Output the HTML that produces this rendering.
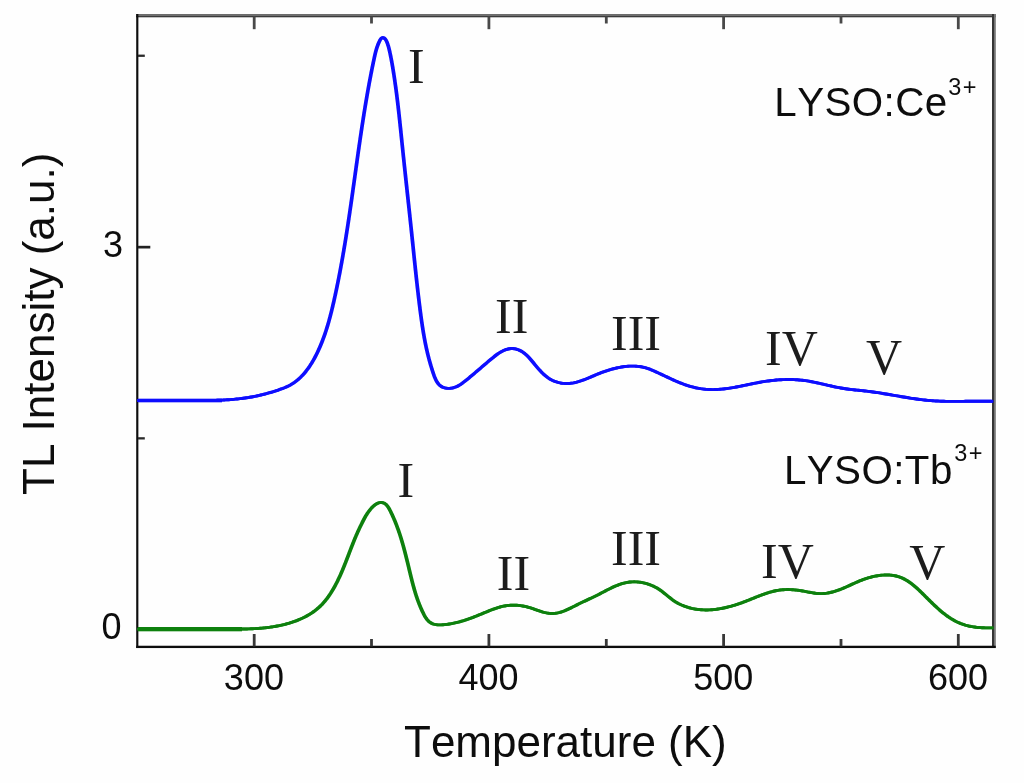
<!DOCTYPE html>
<html><head><meta charset="utf-8"><title>TL Intensity</title>
<style>
html,body{margin:0;padding:0;background:#fff;}
svg{display:block;}
.s{font-family:"Liberation Sans",sans-serif;fill:#111;font-kerning:none;}
.r{font-family:"Liberation Serif",serif;fill:#1c1c1c;font-size:50px;}
</style></head><body>
<svg width="1024" height="783" viewBox="0 0 1024 783">
<rect width="1024" height="783" fill="#fefefe"/>
<defs><filter id="soft" x="-2%" y="-2%" width="104%" height="104%"><feGaussianBlur stdDeviation="0.45"/></filter></defs>
<g filter="url(#soft)">
<!-- frame -->
<rect x="136.2" y="14" width="859.5" height="1.6" fill="#6c6c6c"/>
<rect x="136.2" y="15.5" width="859.5" height="1.8" fill="#3a3a3a"/>
<rect x="992" y="14" width="2" height="634" fill="#353535"/>
<rect x="994" y="14" width="1.8" height="634" fill="#767676"/>
<rect x="136.2" y="14" width="2.15" height="634" fill="#0a0a0a"/>
<rect x="136.2" y="645.75" width="859.5" height="2.3" fill="#0a0a0a"/>
<rect x="252.8" y="634" width="2.8" height="12.5" fill="#383838"/><rect x="252.8" y="16.5" width="2.8" height="12.7" fill="#4a4a4a"/><rect x="487.5" y="634" width="2.8" height="12.5" fill="#383838"/><rect x="487.5" y="16.5" width="2.8" height="12.7" fill="#4a4a4a"/><rect x="722.2" y="634" width="2.8" height="12.5" fill="#383838"/><rect x="722.2" y="16.5" width="2.8" height="12.7" fill="#4a4a4a"/><rect x="956.9" y="634" width="2.8" height="12.5" fill="#383838"/><rect x="956.9" y="16.5" width="2.8" height="12.7" fill="#4a4a4a"/><rect x="370.1" y="639" width="2.8" height="7.5" fill="#383838"/><rect x="370.1" y="16.5" width="2.8" height="7" fill="#4a4a4a"/><rect x="604.9" y="639" width="2.8" height="7.5" fill="#383838"/><rect x="604.9" y="16.5" width="2.8" height="7" fill="#4a4a4a"/><rect x="839.6" y="639" width="2.8" height="7.5" fill="#383838"/><rect x="839.6" y="16.5" width="2.8" height="7" fill="#4a4a4a"/>
<!-- y ticks -->
<rect x="138" y="54.6" width="6.8" height="2.3" fill="#2c2c2c"/>
<rect x="138" y="245.8" width="12.3" height="2.7" fill="#222"/>
<rect x="138" y="437.2" width="6.8" height="2.3" fill="#2c2c2c"/>
<rect x="138" y="628.5" width="12.3" height="2.4" fill="#1a1a1a"/>
<!-- curves -->
<path id="cb" d="M137.49 400.57L139.13 400.54L140.76 400.50L142.39 400.47L144.02 400.45L145.65 400.43L147.29 400.41L148.92 400.40L150.55 400.39L152.18 400.39L153.81 400.38L155.44 400.38L157.07 400.38L158.70 400.39L160.33 400.40L161.96 400.40L163.59 400.41L165.22 400.43L166.85 400.44L168.47 400.45L170.10 400.47L171.73 400.48L173.36 400.50L174.99 400.52L176.62 400.53L178.25 400.55L179.88 400.57L181.50 400.58L183.13 400.59L184.76 400.61L186.39 400.62L188.02 400.63L189.65 400.64L191.28 400.64L192.91 400.65L194.54 400.65L196.17 400.65L197.79 400.64L199.42 400.63L201.05 400.62L202.68 400.61L204.31 400.59L205.95 400.57L207.58 400.54L209.21 400.51L210.84 400.48L212.47 400.44L214.10 400.39L215.73 400.34L217.37 400.29L219.00 400.23L220.63 400.16L222.26 400.08L223.89 400.00L225.52 399.91L227.15 399.81L228.78 399.70L230.41 399.59L232.04 399.46L233.66 399.32L235.29 399.18L236.91 399.02L238.53 398.85L240.14 398.67L241.76 398.47L243.37 398.27L244.98 398.04L246.59 397.81L248.19 397.56L249.79 397.30L251.39 397.02L252.98 396.73L254.57 396.42L256.15 396.09L257.74 395.75L259.32 395.39L260.89 395.02L262.47 394.64L264.05 394.24L265.62 393.82L267.19 393.39L268.77 392.95L270.34 392.49L271.91 392.02L273.49 391.54L275.07 391.05L276.64 390.54L278.23 390.02L279.81 389.49L281.38 388.93L282.94 388.36L284.49 387.75L286.01 387.10L287.51 386.42L288.97 385.70L290.40 384.93L291.80 384.11L293.16 383.24L294.48 382.34L295.78 381.39L297.04 380.40L298.26 379.37L299.46 378.30L300.62 377.20L301.76 376.07L302.86 374.90L303.94 373.70L304.99 372.47L306.01 371.22L307.00 369.94L307.97 368.63L308.91 367.30L309.83 365.95L310.72 364.58L311.60 363.19L312.44 361.79L313.27 360.36L314.08 358.93L314.86 357.48L315.63 356.03L316.37 354.56L317.10 353.09L317.81 351.61L318.50 350.12L319.18 348.63L319.84 347.13L320.48 345.63L321.11 344.13L321.72 342.62L322.32 341.10L322.90 339.58L323.47 338.05L324.03 336.52L324.57 334.99L325.10 333.45L325.62 331.91L326.12 330.36L326.62 328.82L327.10 327.26L327.57 325.71L328.04 324.15L328.49 322.59L328.93 321.02L329.37 319.45L329.79 317.88L330.21 316.31L330.62 314.73L331.02 313.16L331.42 311.58L331.81 310.00L332.19 308.41L332.57 306.83L332.94 305.24L333.31 303.66L333.67 302.07L334.03 300.48L334.39 298.89L334.74 297.30L335.09 295.71L335.43 294.12L335.77 292.52L336.11 290.93L336.45 289.34L336.78 287.74L337.11 286.15L337.44 284.55L337.76 282.95L338.09 281.35L338.40 279.76L338.72 278.16L339.03 276.56L339.34 274.96L339.65 273.36L339.96 271.76L340.26 270.16L340.56 268.55L340.85 266.95L341.15 265.35L341.44 263.75L341.73 262.14L342.02 260.54L342.31 258.93L342.59 257.33L342.87 255.72L343.15 254.12L343.42 252.51L343.70 250.90L343.97 249.29L344.24 247.69L344.51 246.08L344.78 244.47L345.04 242.86L345.31 241.25L345.57 239.64L345.83 238.03L346.08 236.42L346.34 234.81L346.59 233.20L346.85 231.59L347.10 229.98L347.35 228.37L347.60 226.76L347.84 225.14L348.09 223.53L348.33 221.92L348.58 220.31L348.82 218.69L349.06 217.08L349.30 215.47L349.54 213.86L349.77 212.24L350.01 210.63L350.25 209.02L350.48 207.40L350.71 205.79L350.95 204.17L351.18 202.56L351.41 200.95L351.64 199.33L351.87 197.72L352.10 196.10L352.33 194.49L352.56 192.88L352.78 191.26L353.01 189.65L353.24 188.03L353.46 186.42L353.69 184.80L353.92 183.19L354.14 181.57L354.37 179.96L354.59 178.34L354.82 176.73L355.04 175.12L355.27 173.50L355.49 171.89L355.72 170.27L355.94 168.66L356.17 167.04L356.39 165.43L356.62 163.81L356.85 162.20L357.07 160.59L357.30 158.97L357.53 157.36L357.75 155.74L357.98 154.13L358.21 152.52L358.44 150.90L358.67 149.29L358.90 147.68L359.13 146.06L359.37 144.45L359.60 142.84L359.84 141.23L360.07 139.61L360.31 138.00L360.54 136.39L360.78 134.78L361.02 133.17L361.26 131.55L361.50 129.94L361.75 128.33L361.99 126.72L362.23 125.11L362.48 123.50L362.73 121.89L362.98 120.28L363.23 118.67L363.48 117.06L363.74 115.45L363.99 113.84L364.25 112.23L364.51 110.63L364.77 109.02L365.03 107.41L365.30 105.80L365.56 104.20L365.83 102.59L366.10 100.98L366.38 99.38L366.65 97.77L366.93 96.17L367.21 94.56L367.49 92.96L367.77 91.35L368.05 89.75L368.34 88.15L368.63 86.54L368.92 84.94L369.22 83.34L369.52 81.74L369.82 80.13L370.12 78.53L370.43 76.93L370.73 75.33L371.04 73.73L371.36 72.13L371.67 70.54L371.99 68.94L372.31 67.34L372.64 65.74L372.97 64.15L373.30 62.55L373.63 60.95L373.97 59.36L374.31 57.76L374.66 56.17L375.01 54.58L375.39 52.99L375.79 51.41L376.23 49.83L376.70 48.26L377.21 46.70L377.77 45.14L378.39 43.60L379.06 42.07L379.81 40.55L380.64 39.10L381.60 37.99L382.74 37.54L383.98 37.84L385.09 38.81L386.03 40.23L386.83 41.89L387.49 43.56L388.05 45.17L388.52 46.75L388.93 48.30L389.30 49.85L389.65 51.40L390.00 52.96L390.33 54.53L390.65 56.10L390.97 57.69L391.28 59.28L391.57 60.88L391.87 62.48L392.15 64.09L392.43 65.69L392.71 67.31L392.97 68.92L393.24 70.54L393.50 72.15L393.75 73.77L394.00 75.38L394.25 77.00L394.49 78.61L394.73 80.23L394.96 81.85L395.19 83.46L395.42 85.08L395.64 86.70L395.86 88.31L396.08 89.93L396.29 91.55L396.50 93.16L396.71 94.78L396.91 96.40L397.11 98.02L397.31 99.63L397.51 101.25L397.70 102.87L397.89 104.49L398.08 106.10L398.27 107.72L398.45 109.34L398.63 110.96L398.81 112.58L398.99 114.20L399.17 115.81L399.35 117.43L399.52 119.05L399.70 120.67L399.87 122.29L400.04 123.91L400.21 125.53L400.38 127.15L400.55 128.77L400.72 130.39L400.88 132.01L401.05 133.63L401.22 135.25L401.38 136.87L401.55 138.49L401.72 140.11L401.88 141.73L402.05 143.35L402.22 144.97L402.39 146.59L402.55 148.21L402.72 149.83L402.89 151.45L403.06 153.07L403.23 154.69L403.40 156.31L403.57 157.93L403.75 159.56L403.92 161.18L404.09 162.80L404.26 164.42L404.44 166.04L404.61 167.66L404.78 169.28L404.96 170.91L405.13 172.53L405.31 174.15L405.48 175.77L405.65 177.39L405.83 179.01L406.00 180.64L406.18 182.26L406.35 183.88L406.53 185.50L406.71 187.12L406.88 188.74L407.06 190.37L407.23 191.99L407.41 193.61L407.58 195.23L407.76 196.85L407.94 198.47L408.11 200.10L408.29 201.72L408.46 203.34L408.64 204.96L408.81 206.58L408.99 208.20L409.16 209.82L409.34 211.45L409.51 213.07L409.69 214.69L409.86 216.31L410.03 217.93L410.21 219.55L410.38 221.17L410.55 222.79L410.72 224.41L410.90 226.03L411.07 227.65L411.24 229.27L411.41 230.89L411.58 232.51L411.75 234.13L411.92 235.75L412.09 237.37L412.26 238.99L412.43 240.61L412.60 242.23L412.76 243.85L412.93 245.47L413.10 247.09L413.27 248.71L413.44 250.33L413.60 251.95L413.77 253.57L413.94 255.18L414.11 256.80L414.28 258.42L414.45 260.04L414.62 261.66L414.79 263.28L414.96 264.90L415.13 266.52L415.30 268.14L415.47 269.75L415.65 271.37L415.82 272.99L415.99 274.61L416.17 276.23L416.35 277.85L416.53 279.47L416.70 281.09L416.88 282.71L417.07 284.33L417.25 285.95L417.43 287.57L417.62 289.19L417.80 290.81L417.99 292.43L418.18 294.05L418.37 295.67L418.56 297.29L418.76 298.91L418.95 300.53L419.15 302.15L419.35 303.77L419.55 305.39L419.76 307.02L419.96 308.64L420.17 310.26L420.38 311.88L420.59 313.50L420.81 315.13L421.03 316.75L421.25 318.37L421.47 319.99L421.70 321.61L421.94 323.22L422.18 324.84L422.42 326.46L422.67 328.07L422.93 329.68L423.19 331.29L423.46 332.90L423.73 334.51L424.01 336.11L424.30 337.71L424.59 339.31L424.89 340.91L425.20 342.50L425.52 344.09L425.85 345.68L426.18 347.27L426.53 348.85L426.88 350.42L427.24 352.00L427.62 353.57L428.00 355.13L428.39 356.69L428.80 358.25L429.21 359.81L429.64 361.36L430.08 362.92L430.53 364.48L431.00 366.05L431.48 367.63L431.98 369.22L432.49 370.83L433.02 372.46L433.57 374.10L434.15 375.74L434.77 377.36L435.44 378.94L436.17 380.46L436.98 381.90L437.87 383.23L438.87 384.44L439.97 385.50L441.19 386.39L442.53 387.12L443.97 387.67L445.49 388.06L447.07 388.29L448.68 388.36L450.31 388.29L451.95 388.07L453.56 387.71L455.13 387.22L456.65 386.61L458.12 385.88L459.56 385.06L460.96 384.17L462.33 383.21L463.67 382.20L464.99 381.16L466.29 380.11L467.58 379.06L468.86 378.01L470.13 376.96L471.39 375.90L472.64 374.85L473.88 373.80L475.12 372.75L476.36 371.70L477.59 370.65L478.81 369.60L480.04 368.55L481.26 367.50L482.49 366.46L483.71 365.41L484.94 364.36L486.17 363.31L487.40 362.26L488.64 361.22L489.89 360.17L491.14 359.12L492.40 358.08L493.67 357.03L494.96 356.01L496.27 355.00L497.60 354.04L498.95 353.11L500.34 352.24L501.76 351.43L503.23 350.70L504.74 350.04L506.29 349.48L507.87 349.04L509.48 348.72L511.11 348.55L512.74 348.54L514.37 348.70L515.99 349.03L517.57 349.50L519.12 350.10L520.61 350.82L522.04 351.63L523.40 352.53L524.69 353.51L525.92 354.55L527.11 355.65L528.25 356.81L529.35 358.00L530.44 359.23L531.50 360.48L532.55 361.75L533.60 363.03L534.65 364.32L535.71 365.60L536.77 366.87L537.84 368.13L538.93 369.37L540.04 370.59L541.16 371.79L542.31 372.95L543.48 374.07L544.68 375.16L545.92 376.19L547.19 377.18L548.49 378.10L549.84 378.97L551.23 379.77L552.67 380.49L554.16 381.14L555.70 381.71L557.28 382.21L558.89 382.62L560.52 382.95L562.17 383.21L563.82 383.38L565.48 383.48L567.13 383.49L568.76 383.43L570.38 383.30L571.99 383.10L573.59 382.83L575.18 382.50L576.75 382.13L578.32 381.70L579.88 381.23L581.43 380.72L582.97 380.17L584.51 379.60L586.04 379.00L587.56 378.38L589.08 377.75L590.60 377.10L592.11 376.45L593.62 375.81L595.13 375.16L596.63 374.53L598.14 373.91L599.65 373.31L601.16 372.72L602.68 372.15L604.19 371.61L605.72 371.08L607.25 370.57L608.79 370.08L610.34 369.61L611.90 369.17L613.47 368.74L615.05 368.34L616.65 367.97L618.26 367.63L619.88 367.31L621.50 367.02L623.13 366.77L624.77 366.56L626.40 366.38L628.05 366.24L629.69 366.14L631.33 366.09L632.96 366.08L634.60 366.12L636.23 366.21L637.85 366.35L639.46 366.54L641.06 366.79L642.66 367.10L644.24 367.47L645.80 367.89L647.36 368.38L648.90 368.91L650.43 369.48L651.95 370.09L653.46 370.73L654.97 371.39L656.46 372.06L657.95 372.75L659.43 373.45L660.91 374.14L662.38 374.84L663.85 375.54L665.32 376.24L666.79 376.93L668.26 377.63L669.72 378.31L671.19 378.99L672.67 379.66L674.14 380.32L675.62 380.97L677.11 381.60L678.60 382.22L680.10 382.83L681.61 383.42L683.12 383.99L684.65 384.54L686.19 385.07L687.74 385.58L689.30 386.06L690.88 386.52L692.47 386.95L694.07 387.35L695.69 387.73L697.31 388.07L698.94 388.38L700.57 388.66L702.21 388.90L703.85 389.11L705.48 389.28L707.11 389.41L708.75 389.51L710.37 389.57L712.00 389.60L713.62 389.59L715.24 389.56L716.86 389.50L718.48 389.41L720.09 389.29L721.70 389.15L723.31 388.99L724.92 388.80L726.53 388.60L728.14 388.37L729.75 388.13L731.35 387.88L732.95 387.61L734.56 387.32L736.16 387.03L737.76 386.72L739.37 386.41L740.97 386.09L742.57 385.76L744.17 385.43L745.77 385.10L747.37 384.76L748.98 384.43L750.58 384.09L752.18 383.77L753.79 383.44L755.40 383.12L757.00 382.81L758.61 382.51L760.22 382.22L761.83 381.94L763.44 381.67L765.06 381.42L766.67 381.18L768.29 380.95L769.91 380.74L771.52 380.55L773.14 380.37L774.76 380.20L776.38 380.06L778.00 379.92L779.62 379.81L781.24 379.71L782.87 379.64L784.49 379.58L786.11 379.54L787.73 379.51L789.35 379.51L790.97 379.53L792.58 379.57L794.20 379.63L795.82 379.71L797.44 379.82L799.05 379.94L800.66 380.09L802.28 380.26L803.89 380.46L805.49 380.68L807.10 380.92L808.71 381.18L810.31 381.46L811.92 381.76L813.52 382.08L815.12 382.40L816.72 382.74L818.32 383.09L819.92 383.45L821.52 383.81L823.12 384.18L824.72 384.55L826.32 384.92L827.92 385.30L829.52 385.66L831.12 386.03L832.72 386.38L834.32 386.73L835.92 387.07L837.53 387.39L839.13 387.70L840.74 388.00L842.35 388.28L843.96 388.54L845.57 388.78L847.18 389.00L848.80 389.22L850.41 389.42L852.03 389.61L853.64 389.79L855.26 389.96L856.88 390.13L858.49 390.30L860.11 390.47L861.73 390.64L863.35 390.81L864.96 390.98L866.58 391.17L868.19 391.36L869.81 391.56L871.42 391.77L873.04 391.99L874.65 392.22L876.26 392.45L877.87 392.69L879.49 392.94L881.10 393.19L882.71 393.45L884.32 393.72L885.93 393.98L887.54 394.25L889.15 394.53L890.75 394.80L892.36 395.08L893.97 395.36L895.58 395.64L897.19 395.91L898.80 396.19L900.41 396.47L902.02 396.74L903.63 397.01L905.24 397.28L906.85 397.54L908.46 397.80L910.07 398.06L911.68 398.31L913.30 398.55L914.91 398.78L916.52 399.01L918.14 399.23L919.75 399.45L921.37 399.65L922.98 399.84L924.60 400.03L926.22 400.20L927.84 400.36L929.46 400.51L931.08 400.64L932.70 400.76L934.33 400.87L935.95 400.97L937.58 401.06L939.20 401.13L940.83 401.20L942.46 401.25L944.09 401.30L945.71 401.33L947.34 401.36L948.97 401.38L950.61 401.40L952.24 401.41L953.87 401.41L955.50 401.41L957.13 401.40L958.76 401.39L960.40 401.38L962.03 401.36L963.66 401.34L965.30 401.32L966.93 401.30L968.56 401.28L970.19 401.26L971.82 401.24L973.46 401.22L975.09 401.21L976.72 401.19L978.35 401.19L979.98 401.18L981.61 401.18L983.24 401.18L984.86 401.19L986.49 401.21L988.12 401.23L989.74 401.27L991.37 401.30L992.99 401.35" fill="none" stroke="#0a0aff" stroke-width="2.9" stroke-linejoin="round" transform="translate(-0.4,0)"/>
<path d="M137.49 400.57L139.13 400.54L140.76 400.50L142.39 400.47L144.02 400.45L145.65 400.43L147.29 400.41L148.92 400.40L150.55 400.39L152.18 400.39L153.81 400.38L155.44 400.38L157.07 400.38L158.70 400.39L160.33 400.40L161.96 400.40L163.59 400.41L165.22 400.43L166.85 400.44L168.47 400.45L170.10 400.47L171.73 400.48L173.36 400.50L174.99 400.52L176.62 400.53L178.25 400.55L179.88 400.57L181.50 400.58L183.13 400.59L184.76 400.61L186.39 400.62L188.02 400.63L189.65 400.64L191.28 400.64L192.91 400.65L194.54 400.65L196.17 400.65L197.79 400.64L199.42 400.63L201.05 400.62L202.68 400.61L204.31 400.59L205.95 400.57L207.58 400.54L209.21 400.51L210.84 400.48L212.47 400.44L214.10 400.39L215.73 400.34L217.37 400.29L219.00 400.23L220.63 400.16L222.26 400.08L223.89 400.00L225.52 399.91L227.15 399.81L228.78 399.70L230.41 399.59L232.04 399.46L233.66 399.32L235.29 399.18L236.91 399.02L238.53 398.85L240.14 398.67L241.76 398.47L243.37 398.27L244.98 398.04L246.59 397.81L248.19 397.56L249.79 397.30L251.39 397.02L252.98 396.73L254.57 396.42L256.15 396.09L257.74 395.75L259.32 395.39L260.89 395.02L262.47 394.64L264.05 394.24L265.62 393.82L267.19 393.39L268.77 392.95L270.34 392.49L271.91 392.02L273.49 391.54L275.07 391.05L276.64 390.54L278.23 390.02L279.81 389.49L281.38 388.93L282.94 388.36L284.49 387.75L286.01 387.10L287.51 386.42L288.97 385.70L290.40 384.93L291.80 384.11L293.16 383.24L294.48 382.34L295.78 381.39L297.04 380.40L298.26 379.37L299.46 378.30L300.62 377.20L301.76 376.07L302.86 374.90L303.94 373.70L304.99 372.47L306.01 371.22L307.00 369.94L307.97 368.63L308.91 367.30L309.83 365.95L310.72 364.58L311.60 363.19L312.44 361.79L313.27 360.36L314.08 358.93L314.86 357.48L315.63 356.03L316.37 354.56L317.10 353.09L317.81 351.61L318.50 350.12L319.18 348.63L319.84 347.13L320.48 345.63L321.11 344.13L321.72 342.62L322.32 341.10L322.90 339.58L323.47 338.05L324.03 336.52L324.57 334.99L325.10 333.45L325.62 331.91L326.12 330.36L326.62 328.82L327.10 327.26L327.57 325.71L328.04 324.15L328.49 322.59L328.93 321.02L329.37 319.45L329.79 317.88L330.21 316.31L330.62 314.73L331.02 313.16L331.42 311.58L331.81 310.00L332.19 308.41L332.57 306.83L332.94 305.24L333.31 303.66L333.67 302.07L334.03 300.48L334.39 298.89L334.74 297.30L335.09 295.71L335.43 294.12L335.77 292.52L336.11 290.93L336.45 289.34L336.78 287.74L337.11 286.15L337.44 284.55L337.76 282.95L338.09 281.35L338.40 279.76L338.72 278.16L339.03 276.56L339.34 274.96L339.65 273.36L339.96 271.76L340.26 270.16L340.56 268.55L340.85 266.95L341.15 265.35L341.44 263.75L341.73 262.14L342.02 260.54L342.31 258.93L342.59 257.33L342.87 255.72L343.15 254.12L343.42 252.51L343.70 250.90L343.97 249.29L344.24 247.69L344.51 246.08L344.78 244.47L345.04 242.86L345.31 241.25L345.57 239.64L345.83 238.03L346.08 236.42L346.34 234.81L346.59 233.20L346.85 231.59L347.10 229.98L347.35 228.37L347.60 226.76L347.84 225.14L348.09 223.53L348.33 221.92L348.58 220.31L348.82 218.69L349.06 217.08L349.30 215.47L349.54 213.86L349.77 212.24L350.01 210.63L350.25 209.02L350.48 207.40L350.71 205.79L350.95 204.17L351.18 202.56L351.41 200.95L351.64 199.33L351.87 197.72L352.10 196.10L352.33 194.49L352.56 192.88L352.78 191.26L353.01 189.65L353.24 188.03L353.46 186.42L353.69 184.80L353.92 183.19L354.14 181.57L354.37 179.96L354.59 178.34L354.82 176.73L355.04 175.12L355.27 173.50L355.49 171.89L355.72 170.27L355.94 168.66L356.17 167.04L356.39 165.43L356.62 163.81L356.85 162.20L357.07 160.59L357.30 158.97L357.53 157.36L357.75 155.74L357.98 154.13L358.21 152.52L358.44 150.90L358.67 149.29L358.90 147.68L359.13 146.06L359.37 144.45L359.60 142.84L359.84 141.23L360.07 139.61L360.31 138.00L360.54 136.39L360.78 134.78L361.02 133.17L361.26 131.55L361.50 129.94L361.75 128.33L361.99 126.72L362.23 125.11L362.48 123.50L362.73 121.89L362.98 120.28L363.23 118.67L363.48 117.06L363.74 115.45L363.99 113.84L364.25 112.23L364.51 110.63L364.77 109.02L365.03 107.41L365.30 105.80L365.56 104.20L365.83 102.59L366.10 100.98L366.38 99.38L366.65 97.77L366.93 96.17L367.21 94.56L367.49 92.96L367.77 91.35L368.05 89.75L368.34 88.15L368.63 86.54L368.92 84.94L369.22 83.34L369.52 81.74L369.82 80.13L370.12 78.53L370.43 76.93L370.73 75.33L371.04 73.73L371.36 72.13L371.67 70.54L371.99 68.94L372.31 67.34L372.64 65.74L372.97 64.15L373.30 62.55L373.63 60.95L373.97 59.36L374.31 57.76L374.66 56.17L375.01 54.58L375.39 52.99L375.79 51.41L376.23 49.83L376.70 48.26L377.21 46.70L377.77 45.14L378.39 43.60L379.06 42.07L379.81 40.55L380.64 39.10L381.60 37.99L382.74 37.54L383.98 37.84L385.09 38.81L386.03 40.23L386.83 41.89L387.49 43.56L388.05 45.17L388.52 46.75L388.93 48.30L389.30 49.85L389.65 51.40L390.00 52.96L390.33 54.53L390.65 56.10L390.97 57.69L391.28 59.28L391.57 60.88L391.87 62.48L392.15 64.09L392.43 65.69L392.71 67.31L392.97 68.92L393.24 70.54L393.50 72.15L393.75 73.77L394.00 75.38L394.25 77.00L394.49 78.61L394.73 80.23L394.96 81.85L395.19 83.46L395.42 85.08L395.64 86.70L395.86 88.31L396.08 89.93L396.29 91.55L396.50 93.16L396.71 94.78L396.91 96.40L397.11 98.02L397.31 99.63L397.51 101.25L397.70 102.87L397.89 104.49L398.08 106.10L398.27 107.72L398.45 109.34L398.63 110.96L398.81 112.58L398.99 114.20L399.17 115.81L399.35 117.43L399.52 119.05L399.70 120.67L399.87 122.29L400.04 123.91L400.21 125.53L400.38 127.15L400.55 128.77L400.72 130.39L400.88 132.01L401.05 133.63L401.22 135.25L401.38 136.87L401.55 138.49L401.72 140.11L401.88 141.73L402.05 143.35L402.22 144.97L402.39 146.59L402.55 148.21L402.72 149.83L402.89 151.45L403.06 153.07L403.23 154.69L403.40 156.31L403.57 157.93L403.75 159.56L403.92 161.18L404.09 162.80L404.26 164.42L404.44 166.04L404.61 167.66L404.78 169.28L404.96 170.91L405.13 172.53L405.31 174.15L405.48 175.77L405.65 177.39L405.83 179.01L406.00 180.64L406.18 182.26L406.35 183.88L406.53 185.50L406.71 187.12L406.88 188.74L407.06 190.37L407.23 191.99L407.41 193.61L407.58 195.23L407.76 196.85L407.94 198.47L408.11 200.10L408.29 201.72L408.46 203.34L408.64 204.96L408.81 206.58L408.99 208.20L409.16 209.82L409.34 211.45L409.51 213.07L409.69 214.69L409.86 216.31L410.03 217.93L410.21 219.55L410.38 221.17L410.55 222.79L410.72 224.41L410.90 226.03L411.07 227.65L411.24 229.27L411.41 230.89L411.58 232.51L411.75 234.13L411.92 235.75L412.09 237.37L412.26 238.99L412.43 240.61L412.60 242.23L412.76 243.85L412.93 245.47L413.10 247.09L413.27 248.71L413.44 250.33L413.60 251.95L413.77 253.57L413.94 255.18L414.11 256.80L414.28 258.42L414.45 260.04L414.62 261.66L414.79 263.28L414.96 264.90L415.13 266.52L415.30 268.14L415.47 269.75L415.65 271.37L415.82 272.99L415.99 274.61L416.17 276.23L416.35 277.85L416.53 279.47L416.70 281.09L416.88 282.71L417.07 284.33L417.25 285.95L417.43 287.57L417.62 289.19L417.80 290.81L417.99 292.43L418.18 294.05L418.37 295.67L418.56 297.29L418.76 298.91L418.95 300.53L419.15 302.15L419.35 303.77L419.55 305.39L419.76 307.02L419.96 308.64L420.17 310.26L420.38 311.88L420.59 313.50L420.81 315.13L421.03 316.75L421.25 318.37L421.47 319.99L421.70 321.61L421.94 323.22L422.18 324.84L422.42 326.46L422.67 328.07L422.93 329.68L423.19 331.29L423.46 332.90L423.73 334.51L424.01 336.11L424.30 337.71L424.59 339.31L424.89 340.91L425.20 342.50L425.52 344.09L425.85 345.68L426.18 347.27L426.53 348.85L426.88 350.42L427.24 352.00L427.62 353.57L428.00 355.13L428.39 356.69L428.80 358.25L429.21 359.81L429.64 361.36L430.08 362.92L430.53 364.48L431.00 366.05L431.48 367.63L431.98 369.22L432.49 370.83L433.02 372.46L433.57 374.10L434.15 375.74L434.77 377.36L435.44 378.94L436.17 380.46L436.98 381.90L437.87 383.23L438.87 384.44L439.97 385.50L441.19 386.39L442.53 387.12L443.97 387.67L445.49 388.06L447.07 388.29L448.68 388.36L450.31 388.29L451.95 388.07L453.56 387.71L455.13 387.22L456.65 386.61L458.12 385.88L459.56 385.06L460.96 384.17L462.33 383.21L463.67 382.20L464.99 381.16L466.29 380.11L467.58 379.06L468.86 378.01L470.13 376.96L471.39 375.90L472.64 374.85L473.88 373.80L475.12 372.75L476.36 371.70L477.59 370.65L478.81 369.60L480.04 368.55L481.26 367.50L482.49 366.46L483.71 365.41L484.94 364.36L486.17 363.31L487.40 362.26L488.64 361.22L489.89 360.17L491.14 359.12L492.40 358.08L493.67 357.03L494.96 356.01L496.27 355.00L497.60 354.04L498.95 353.11L500.34 352.24L501.76 351.43L503.23 350.70L504.74 350.04L506.29 349.48L507.87 349.04L509.48 348.72L511.11 348.55L512.74 348.54L514.37 348.70L515.99 349.03L517.57 349.50L519.12 350.10L520.61 350.82L522.04 351.63L523.40 352.53L524.69 353.51L525.92 354.55L527.11 355.65L528.25 356.81L529.35 358.00L530.44 359.23L531.50 360.48L532.55 361.75L533.60 363.03L534.65 364.32L535.71 365.60L536.77 366.87L537.84 368.13L538.93 369.37L540.04 370.59L541.16 371.79L542.31 372.95L543.48 374.07L544.68 375.16L545.92 376.19L547.19 377.18L548.49 378.10L549.84 378.97L551.23 379.77L552.67 380.49L554.16 381.14L555.70 381.71L557.28 382.21L558.89 382.62L560.52 382.95L562.17 383.21L563.82 383.38L565.48 383.48L567.13 383.49L568.76 383.43L570.38 383.30L571.99 383.10L573.59 382.83L575.18 382.50L576.75 382.13L578.32 381.70L579.88 381.23L581.43 380.72L582.97 380.17L584.51 379.60L586.04 379.00L587.56 378.38L589.08 377.75L590.60 377.10L592.11 376.45L593.62 375.81L595.13 375.16L596.63 374.53L598.14 373.91L599.65 373.31L601.16 372.72L602.68 372.15L604.19 371.61L605.72 371.08L607.25 370.57L608.79 370.08L610.34 369.61L611.90 369.17L613.47 368.74L615.05 368.34L616.65 367.97L618.26 367.63L619.88 367.31L621.50 367.02L623.13 366.77L624.77 366.56L626.40 366.38L628.05 366.24L629.69 366.14L631.33 366.09L632.96 366.08L634.60 366.12L636.23 366.21L637.85 366.35L639.46 366.54L641.06 366.79L642.66 367.10L644.24 367.47L645.80 367.89L647.36 368.38L648.90 368.91L650.43 369.48L651.95 370.09L653.46 370.73L654.97 371.39L656.46 372.06L657.95 372.75L659.43 373.45L660.91 374.14L662.38 374.84L663.85 375.54L665.32 376.24L666.79 376.93L668.26 377.63L669.72 378.31L671.19 378.99L672.67 379.66L674.14 380.32L675.62 380.97L677.11 381.60L678.60 382.22L680.10 382.83L681.61 383.42L683.12 383.99L684.65 384.54L686.19 385.07L687.74 385.58L689.30 386.06L690.88 386.52L692.47 386.95L694.07 387.35L695.69 387.73L697.31 388.07L698.94 388.38L700.57 388.66L702.21 388.90L703.85 389.11L705.48 389.28L707.11 389.41L708.75 389.51L710.37 389.57L712.00 389.60L713.62 389.59L715.24 389.56L716.86 389.50L718.48 389.41L720.09 389.29L721.70 389.15L723.31 388.99L724.92 388.80L726.53 388.60L728.14 388.37L729.75 388.13L731.35 387.88L732.95 387.61L734.56 387.32L736.16 387.03L737.76 386.72L739.37 386.41L740.97 386.09L742.57 385.76L744.17 385.43L745.77 385.10L747.37 384.76L748.98 384.43L750.58 384.09L752.18 383.77L753.79 383.44L755.40 383.12L757.00 382.81L758.61 382.51L760.22 382.22L761.83 381.94L763.44 381.67L765.06 381.42L766.67 381.18L768.29 380.95L769.91 380.74L771.52 380.55L773.14 380.37L774.76 380.20L776.38 380.06L778.00 379.92L779.62 379.81L781.24 379.71L782.87 379.64L784.49 379.58L786.11 379.54L787.73 379.51L789.35 379.51L790.97 379.53L792.58 379.57L794.20 379.63L795.82 379.71L797.44 379.82L799.05 379.94L800.66 380.09L802.28 380.26L803.89 380.46L805.49 380.68L807.10 380.92L808.71 381.18L810.31 381.46L811.92 381.76L813.52 382.08L815.12 382.40L816.72 382.74L818.32 383.09L819.92 383.45L821.52 383.81L823.12 384.18L824.72 384.55L826.32 384.92L827.92 385.30L829.52 385.66L831.12 386.03L832.72 386.38L834.32 386.73L835.92 387.07L837.53 387.39L839.13 387.70L840.74 388.00L842.35 388.28L843.96 388.54L845.57 388.78L847.18 389.00L848.80 389.22L850.41 389.42L852.03 389.61L853.64 389.79L855.26 389.96L856.88 390.13L858.49 390.30L860.11 390.47L861.73 390.64L863.35 390.81L864.96 390.98L866.58 391.17L868.19 391.36L869.81 391.56L871.42 391.77L873.04 391.99L874.65 392.22L876.26 392.45L877.87 392.69L879.49 392.94L881.10 393.19L882.71 393.45L884.32 393.72L885.93 393.98L887.54 394.25L889.15 394.53L890.75 394.80L892.36 395.08L893.97 395.36L895.58 395.64L897.19 395.91L898.80 396.19L900.41 396.47L902.02 396.74L903.63 397.01L905.24 397.28L906.85 397.54L908.46 397.80L910.07 398.06L911.68 398.31L913.30 398.55L914.91 398.78L916.52 399.01L918.14 399.23L919.75 399.45L921.37 399.65L922.98 399.84L924.60 400.03L926.22 400.20L927.84 400.36L929.46 400.51L931.08 400.64L932.70 400.76L934.33 400.87L935.95 400.97L937.58 401.06L939.20 401.13L940.83 401.20L942.46 401.25L944.09 401.30L945.71 401.33L947.34 401.36L948.97 401.38L950.61 401.40L952.24 401.41L953.87 401.41L955.50 401.41L957.13 401.40L958.76 401.39L960.40 401.38L962.03 401.36L963.66 401.34L965.30 401.32L966.93 401.30L968.56 401.28L970.19 401.26L971.82 401.24L973.46 401.22L975.09 401.21L976.72 401.19L978.35 401.19L979.98 401.18L981.61 401.18L983.24 401.18L984.86 401.19L986.49 401.21L988.12 401.23L989.74 401.27L991.37 401.30L992.99 401.35" fill="none" stroke="#0a0aff" stroke-width="2.9" stroke-linejoin="round" transform="translate(0.4,0)"/>
<path d="M137.48 629.08L138.65 629.09L139.82 629.09L140.99 629.10L142.16 629.10L143.33 629.10L144.50 629.11L145.67 629.11L146.84 629.11L148.01 629.11L149.17 629.12L150.34 629.12L151.51 629.12L152.68 629.12L153.84 629.12L155.01 629.12L156.17 629.12L157.34 629.12L158.51 629.12L159.67 629.12L160.84 629.12L162.00 629.12L163.17 629.12L164.33 629.12L165.50 629.12L166.66 629.12L167.82 629.12L168.99 629.12L170.15 629.12L171.32 629.12L172.48 629.11L173.64 629.11L174.81 629.11L175.97 629.11L177.13 629.11L178.30 629.11L179.46 629.11L180.62 629.10L181.79 629.10L182.95 629.10L184.11 629.10L185.27 629.10L186.44 629.09L187.60 629.09L188.76 629.09L189.93 629.09L191.09 629.09L192.25 629.09L193.42 629.08L194.58 629.08L195.74 629.08L196.91 629.08L198.07 629.08L199.23 629.08L200.40 629.08L201.56 629.07L202.73 629.07L203.89 629.07L205.05 629.07L206.22 629.07L207.38 629.07L208.55 629.07L209.71 629.07L210.88 629.07L212.04 629.07L213.21 629.07L214.38 629.07L215.54 629.07L216.71 629.07L217.88 629.07L219.04 629.08L220.21 629.08L221.38 629.08L222.55 629.08L223.71 629.08L224.88 629.09L226.05 629.09L227.22 629.09L228.39 629.09L229.56 629.10L230.73 629.10L231.90 629.10L233.07 629.10L234.24 629.10L235.41 629.09L236.58 629.09L237.75 629.08L238.92 629.07L240.09 629.06L241.26 629.05L242.43 629.03L243.60 629.01L244.77 628.99L245.94 628.96L247.10 628.93L248.27 628.89L249.44 628.86L250.60 628.81L251.77 628.76L252.93 628.71L254.10 628.65L255.26 628.59L256.42 628.52L257.58 628.44L258.75 628.36L259.90 628.27L261.06 628.18L262.22 628.08L263.38 627.97L264.53 627.85L265.69 627.73L266.84 627.60L267.99 627.46L269.14 627.32L270.29 627.16L271.44 627.00L272.59 626.83L273.73 626.64L274.88 626.45L276.02 626.25L277.16 626.04L278.30 625.82L279.43 625.59L280.57 625.35L281.70 625.10L282.83 624.84L283.96 624.57L285.09 624.28L286.22 623.99L287.34 623.68L288.46 623.36L289.58 623.03L290.70 622.68L291.82 622.33L292.93 621.96L294.04 621.57L295.14 621.18L296.24 620.77L297.34 620.35L298.43 619.91L299.51 619.46L300.59 618.99L301.66 618.51L302.73 618.02L303.78 617.51L304.83 616.98L305.87 616.44L306.90 615.89L307.92 615.32L308.93 614.73L309.92 614.13L310.91 613.51L311.89 612.87L312.85 612.22L313.80 611.55L314.74 610.86L315.66 610.16L316.57 609.44L317.46 608.70L318.34 607.94L319.21 607.17L320.05 606.37L320.88 605.56L321.70 604.73L322.50 603.89L323.28 603.03L324.05 602.15L324.80 601.26L325.54 600.36L326.27 599.44L326.98 598.51L327.68 597.57L328.37 596.63L329.04 595.67L329.70 594.70L330.34 593.72L330.98 592.74L331.60 591.74L332.22 590.75L332.82 589.75L333.41 588.74L333.99 587.73L334.56 586.71L335.12 585.69L335.67 584.67L336.21 583.64L336.74 582.60L337.27 581.57L337.78 580.53L338.29 579.48L338.79 578.44L339.28 577.39L339.77 576.33L340.25 575.28L340.72 574.22L341.19 573.15L341.65 572.09L342.11 571.02L342.56 569.95L343.01 568.88L343.45 567.80L343.89 566.73L344.33 565.65L344.76 564.57L345.19 563.49L345.61 562.40L346.04 561.32L346.46 560.23L346.88 559.14L347.30 558.06L347.72 556.97L348.13 555.88L348.55 554.78L348.97 553.69L349.38 552.60L349.80 551.51L350.22 550.42L350.64 549.32L351.06 548.23L351.48 547.14L351.91 546.05L352.34 544.96L352.77 543.87L353.20 542.77L353.64 541.69L354.08 540.60L354.52 539.51L354.97 538.42L355.43 537.34L355.89 536.26L356.35 535.17L356.82 534.09L357.30 533.02L357.78 531.94L358.26 530.87L358.75 529.81L359.24 528.75L359.74 527.69L360.24 526.64L360.74 525.60L361.25 524.56L361.76 523.53L362.27 522.51L362.79 521.50L363.31 520.50L363.83 519.50L364.35 518.52L364.89 517.54L365.43 516.57L366.00 515.60L366.58 514.64L367.19 513.68L367.84 512.71L368.51 511.75L369.23 510.78L369.98 509.81L370.79 508.84L371.63 507.88L372.51 506.97L373.43 506.09L374.39 505.28L375.39 504.55L376.42 503.91L377.49 503.38L378.58 502.96L379.71 502.68L380.84 502.55L381.94 502.57L382.97 502.76L383.93 503.09L384.82 503.56L385.64 504.16L386.41 504.87L387.12 505.67L387.79 506.55L388.43 507.50L389.03 508.51L389.60 509.55L390.15 510.62L390.69 511.71L391.22 512.79L391.73 513.87L392.24 514.96L392.74 516.05L393.23 517.14L393.71 518.23L394.18 519.33L394.64 520.42L395.09 521.52L395.54 522.62L395.97 523.72L396.40 524.82L396.82 525.92L397.23 527.02L397.64 528.13L398.04 529.23L398.43 530.34L398.81 531.44L399.19 532.55L399.56 533.66L399.93 534.77L400.29 535.89L400.64 537.00L400.99 538.11L401.33 539.23L401.66 540.34L402.00 541.46L402.32 542.58L402.65 543.69L402.96 544.81L403.28 545.93L403.59 547.05L403.89 548.17L404.19 549.29L404.49 550.42L404.79 551.54L405.08 552.66L405.37 553.78L405.66 554.91L405.94 556.03L406.22 557.16L406.50 558.28L406.78 559.41L407.06 560.53L407.34 561.66L407.61 562.78L407.88 563.91L408.15 565.03L408.43 566.16L408.70 567.28L408.97 568.41L409.24 569.54L409.51 570.66L409.78 571.79L410.05 572.91L410.33 574.04L410.60 575.16L410.87 576.29L411.15 577.41L411.43 578.54L411.71 579.66L411.99 580.78L412.28 581.91L412.57 583.03L412.87 584.15L413.17 585.27L413.47 586.39L413.78 587.51L414.09 588.63L414.41 589.75L414.74 590.87L415.07 591.99L415.41 593.10L415.76 594.22L416.11 595.33L416.48 596.44L416.85 597.55L417.23 598.66L417.62 599.77L418.02 600.88L418.43 601.99L418.85 603.09L419.28 604.19L419.72 605.30L420.17 606.40L420.64 607.50L421.12 608.59L421.61 609.69L422.11 610.78L422.63 611.88L423.16 612.97L423.70 614.05L424.26 615.13L424.85 616.19L425.46 617.22L426.10 618.22L426.78 619.16L427.49 620.06L428.25 620.89L429.05 621.64L429.91 622.31L430.82 622.90L431.78 623.39L432.79 623.81L433.84 624.15L434.93 624.41L436.06 624.61L437.21 624.75L438.38 624.84L439.57 624.87L440.78 624.86L442.00 624.82L443.22 624.74L444.44 624.63L445.65 624.50L446.86 624.35L448.05 624.19L449.24 624.01L450.42 623.82L451.58 623.62L452.74 623.40L453.89 623.17L455.03 622.92L456.17 622.66L457.30 622.39L458.42 622.11L459.53 621.82L460.64 621.51L461.75 621.20L462.85 620.87L463.94 620.53L465.03 620.19L466.12 619.83L467.20 619.47L468.29 619.09L469.37 618.71L470.44 618.32L471.52 617.93L472.60 617.52L473.67 617.11L474.75 616.69L475.82 616.27L476.90 615.84L477.98 615.40L479.06 614.96L480.14 614.52L481.23 614.07L482.31 613.62L483.41 613.16L484.50 612.70L485.60 612.25L486.70 611.79L487.80 611.34L488.91 610.89L490.01 610.45L491.12 610.01L492.24 609.59L493.35 609.17L494.47 608.77L495.59 608.38L496.71 608.01L497.83 607.66L498.96 607.32L500.09 607.01L501.21 606.71L502.34 606.44L503.47 606.19L504.61 605.98L505.74 605.78L506.87 605.62L508.01 605.48L509.14 605.36L510.28 605.28L511.42 605.21L512.56 605.18L513.69 605.17L514.83 605.19L515.97 605.23L517.11 605.29L518.25 605.38L519.38 605.50L520.52 605.64L521.66 605.81L522.80 606.00L523.94 606.21L525.07 606.45L526.21 606.71L527.34 606.99L528.48 607.30L529.61 607.63L530.74 607.98L531.87 608.35L533.00 608.73L534.13 609.12L535.26 609.51L536.39 609.91L537.52 610.30L538.64 610.69L539.77 611.07L540.90 611.43L542.02 611.78L543.15 612.11L544.27 612.41L545.39 612.68L546.52 612.92L547.64 613.13L548.76 613.30L549.89 613.42L551.01 613.50L552.13 613.52L553.26 613.49L554.38 613.41L555.50 613.29L556.62 613.11L557.74 612.89L558.86 612.63L559.98 612.33L561.10 612.00L562.21 611.64L563.32 611.24L564.43 610.82L565.54 610.37L566.65 609.90L567.75 609.41L568.85 608.91L569.94 608.39L571.03 607.86L572.12 607.32L573.21 606.77L574.29 606.23L575.36 605.68L576.43 605.14L577.49 604.60L578.55 604.07L579.61 603.55L580.66 603.04L581.70 602.54L582.74 602.04L583.78 601.55L584.81 601.07L585.84 600.59L586.87 600.11L587.90 599.64L588.92 599.16L589.95 598.68L590.97 598.20L592.00 597.72L593.02 597.24L594.05 596.75L595.08 596.25L596.11 595.74L597.14 595.23L598.17 594.70L599.21 594.17L600.25 593.63L601.29 593.08L602.34 592.53L603.39 591.98L604.44 591.43L605.50 590.87L606.56 590.32L607.62 589.78L608.69 589.24L609.76 588.70L610.83 588.18L611.91 587.66L612.99 587.16L614.07 586.67L615.16 586.19L616.25 585.73L617.35 585.29L618.45 584.87L619.55 584.47L620.66 584.09L621.78 583.74L622.89 583.41L624.02 583.11L625.14 582.83L626.27 582.59L627.41 582.38L628.55 582.21L629.69 582.06L630.84 581.95L631.99 581.88L633.14 581.83L634.29 581.82L635.45 581.84L636.60 581.89L637.75 581.97L638.90 582.09L640.05 582.23L641.19 582.40L642.34 582.61L643.47 582.84L644.60 583.10L645.73 583.39L646.84 583.71L647.95 584.05L649.05 584.43L650.15 584.83L651.23 585.25L652.30 585.71L653.36 586.19L654.41 586.69L655.44 587.22L656.47 587.77L657.47 588.35L658.47 588.96L659.44 589.58L660.40 590.23L661.35 590.90L662.28 591.60L663.19 592.31L664.10 593.03L665.00 593.76L665.89 594.51L666.78 595.25L667.67 596.00L668.57 596.75L669.47 597.49L670.39 598.22L671.31 598.94L672.25 599.65L673.20 600.33L674.18 601.00L675.18 601.65L676.19 602.27L677.23 602.86L678.29 603.43L679.36 603.97L680.44 604.49L681.54 604.99L682.65 605.46L683.76 605.91L684.89 606.33L686.01 606.72L687.14 607.09L688.27 607.44L689.40 607.76L690.54 608.06L691.67 608.34L692.81 608.59L693.95 608.82L695.09 609.03L696.23 609.21L697.37 609.38L698.51 609.52L699.66 609.64L700.80 609.74L701.95 609.82L703.09 609.88L704.24 609.92L705.39 609.95L706.53 609.95L707.68 609.93L708.83 609.90L709.98 609.85L711.12 609.78L712.27 609.70L713.42 609.60L714.57 609.48L715.71 609.35L716.86 609.20L718.00 609.04L719.15 608.86L720.29 608.67L721.44 608.46L722.58 608.24L723.72 608.01L724.86 607.76L726.00 607.50L727.13 607.23L728.27 606.95L729.40 606.65L730.53 606.35L731.66 606.03L732.79 605.71L733.92 605.37L735.04 605.03L736.17 604.67L737.29 604.31L738.40 603.94L739.52 603.55L740.63 603.17L741.74 602.77L742.85 602.37L743.96 601.96L745.06 601.54L746.16 601.12L747.25 600.70L748.35 600.26L749.44 599.83L750.53 599.39L751.61 598.95L752.70 598.51L753.78 598.08L754.87 597.64L755.95 597.20L757.03 596.77L758.12 596.34L759.20 595.91L760.28 595.50L761.37 595.08L762.45 594.68L763.54 594.28L764.63 593.90L765.72 593.52L766.82 593.16L767.92 592.81L769.02 592.47L770.12 592.14L771.23 591.83L772.34 591.54L773.45 591.26L774.57 591.00L775.70 590.76L776.83 590.54L777.96 590.34L779.10 590.16L780.25 590.01L781.40 589.87L782.56 589.76L783.73 589.68L784.90 589.62L786.07 589.58L787.25 589.56L788.43 589.56L789.62 589.58L790.80 589.63L791.99 589.69L793.17 589.77L794.36 589.86L795.54 589.98L796.72 590.10L797.90 590.25L799.07 590.41L800.24 590.58L801.40 590.76L802.56 590.96L803.71 591.17L804.86 591.38L806.00 591.61L807.14 591.83L808.27 592.05L809.41 592.27L810.54 592.48L811.67 592.68L812.80 592.87L813.93 593.04L815.06 593.20L816.20 593.34L817.34 593.45L818.49 593.53L819.64 593.59L820.79 593.61L821.95 593.59L823.12 593.54L824.30 593.46L825.48 593.33L826.66 593.18L827.84 592.99L829.02 592.77L830.20 592.53L831.37 592.26L832.53 591.97L833.68 591.66L834.82 591.32L835.95 590.97L837.06 590.61L838.16 590.23L839.25 589.83L840.33 589.42L841.40 589.00L842.46 588.57L843.51 588.13L844.56 587.68L845.60 587.23L846.64 586.77L847.67 586.30L848.71 585.83L849.74 585.35L850.77 584.88L851.80 584.40L852.83 583.93L853.86 583.45L854.90 582.98L855.95 582.52L857.00 582.06L858.05 581.60L859.12 581.15L860.19 580.71L861.27 580.28L862.37 579.86L863.47 579.45L864.59 579.06L865.72 578.68L866.86 578.31L868.01 577.95L869.16 577.62L870.33 577.30L871.50 576.99L872.67 576.71L873.85 576.44L875.04 576.19L876.23 575.97L877.42 575.76L878.61 575.58L879.80 575.42L880.99 575.28L882.18 575.17L883.37 575.08L884.56 575.02L885.74 574.99L886.91 574.98L888.08 575.00L889.25 575.05L890.41 575.13L891.56 575.24L892.70 575.38L893.83 575.55L894.94 575.76L896.05 575.99L897.15 576.27L898.23 576.58L899.29 576.92L900.35 577.30L901.39 577.71L902.41 578.16L903.43 578.64L904.43 579.14L905.42 579.68L906.39 580.24L907.36 580.83L908.32 581.45L909.27 582.08L910.20 582.74L911.13 583.43L912.05 584.13L912.96 584.85L913.87 585.58L914.77 586.34L915.66 587.10L916.54 587.88L917.42 588.68L918.29 589.48L919.16 590.30L920.03 591.12L920.89 591.95L921.74 592.79L922.60 593.63L923.45 594.47L924.30 595.32L925.14 596.16L925.99 597.01L926.84 597.86L927.68 598.70L928.53 599.54L929.38 600.38L930.22 601.22L931.07 602.05L931.92 602.88L932.77 603.70L933.62 604.52L934.48 605.33L935.33 606.14L936.20 606.94L937.06 607.73L937.93 608.51L938.80 609.29L939.68 610.06L940.56 610.81L941.45 611.56L942.34 612.30L943.24 613.02L944.14 613.73L945.05 614.44L945.97 615.12L946.89 615.80L947.83 616.46L948.77 617.11L949.72 617.74L950.67 618.36L951.64 618.96L952.62 619.54L953.60 620.11L954.60 620.66L955.60 621.19L956.62 621.71L957.65 622.20L958.69 622.68L959.74 623.13L960.80 623.57L961.87 623.98L962.96 624.37L964.06 624.74L965.18 625.09L966.30 625.41L967.45 625.71L968.60 625.99L969.77 626.24L970.95 626.48L972.13 626.69L973.33 626.88L974.53 627.05L975.73 627.20L976.93 627.34L978.14 627.45L979.35 627.55L980.55 627.64L981.75 627.71L982.94 627.77L984.13 627.81L985.31 627.84L986.47 627.87L987.63 627.88L988.77 627.88L989.90 627.87L991.01 627.85L992.10 627.83L993.18 627.80" fill="none" stroke="#0a800a" stroke-width="2.9" stroke-linejoin="round" transform="translate(-0.4,0)"/>
<path d="M137.48 629.08L138.65 629.09L139.82 629.09L140.99 629.10L142.16 629.10L143.33 629.10L144.50 629.11L145.67 629.11L146.84 629.11L148.01 629.11L149.17 629.12L150.34 629.12L151.51 629.12L152.68 629.12L153.84 629.12L155.01 629.12L156.17 629.12L157.34 629.12L158.51 629.12L159.67 629.12L160.84 629.12L162.00 629.12L163.17 629.12L164.33 629.12L165.50 629.12L166.66 629.12L167.82 629.12L168.99 629.12L170.15 629.12L171.32 629.12L172.48 629.11L173.64 629.11L174.81 629.11L175.97 629.11L177.13 629.11L178.30 629.11L179.46 629.11L180.62 629.10L181.79 629.10L182.95 629.10L184.11 629.10L185.27 629.10L186.44 629.09L187.60 629.09L188.76 629.09L189.93 629.09L191.09 629.09L192.25 629.09L193.42 629.08L194.58 629.08L195.74 629.08L196.91 629.08L198.07 629.08L199.23 629.08L200.40 629.08L201.56 629.07L202.73 629.07L203.89 629.07L205.05 629.07L206.22 629.07L207.38 629.07L208.55 629.07L209.71 629.07L210.88 629.07L212.04 629.07L213.21 629.07L214.38 629.07L215.54 629.07L216.71 629.07L217.88 629.07L219.04 629.08L220.21 629.08L221.38 629.08L222.55 629.08L223.71 629.08L224.88 629.09L226.05 629.09L227.22 629.09L228.39 629.09L229.56 629.10L230.73 629.10L231.90 629.10L233.07 629.10L234.24 629.10L235.41 629.09L236.58 629.09L237.75 629.08L238.92 629.07L240.09 629.06L241.26 629.05L242.43 629.03L243.60 629.01L244.77 628.99L245.94 628.96L247.10 628.93L248.27 628.89L249.44 628.86L250.60 628.81L251.77 628.76L252.93 628.71L254.10 628.65L255.26 628.59L256.42 628.52L257.58 628.44L258.75 628.36L259.90 628.27L261.06 628.18L262.22 628.08L263.38 627.97L264.53 627.85L265.69 627.73L266.84 627.60L267.99 627.46L269.14 627.32L270.29 627.16L271.44 627.00L272.59 626.83L273.73 626.64L274.88 626.45L276.02 626.25L277.16 626.04L278.30 625.82L279.43 625.59L280.57 625.35L281.70 625.10L282.83 624.84L283.96 624.57L285.09 624.28L286.22 623.99L287.34 623.68L288.46 623.36L289.58 623.03L290.70 622.68L291.82 622.33L292.93 621.96L294.04 621.57L295.14 621.18L296.24 620.77L297.34 620.35L298.43 619.91L299.51 619.46L300.59 618.99L301.66 618.51L302.73 618.02L303.78 617.51L304.83 616.98L305.87 616.44L306.90 615.89L307.92 615.32L308.93 614.73L309.92 614.13L310.91 613.51L311.89 612.87L312.85 612.22L313.80 611.55L314.74 610.86L315.66 610.16L316.57 609.44L317.46 608.70L318.34 607.94L319.21 607.17L320.05 606.37L320.88 605.56L321.70 604.73L322.50 603.89L323.28 603.03L324.05 602.15L324.80 601.26L325.54 600.36L326.27 599.44L326.98 598.51L327.68 597.57L328.37 596.63L329.04 595.67L329.70 594.70L330.34 593.72L330.98 592.74L331.60 591.74L332.22 590.75L332.82 589.75L333.41 588.74L333.99 587.73L334.56 586.71L335.12 585.69L335.67 584.67L336.21 583.64L336.74 582.60L337.27 581.57L337.78 580.53L338.29 579.48L338.79 578.44L339.28 577.39L339.77 576.33L340.25 575.28L340.72 574.22L341.19 573.15L341.65 572.09L342.11 571.02L342.56 569.95L343.01 568.88L343.45 567.80L343.89 566.73L344.33 565.65L344.76 564.57L345.19 563.49L345.61 562.40L346.04 561.32L346.46 560.23L346.88 559.14L347.30 558.06L347.72 556.97L348.13 555.88L348.55 554.78L348.97 553.69L349.38 552.60L349.80 551.51L350.22 550.42L350.64 549.32L351.06 548.23L351.48 547.14L351.91 546.05L352.34 544.96L352.77 543.87L353.20 542.77L353.64 541.69L354.08 540.60L354.52 539.51L354.97 538.42L355.43 537.34L355.89 536.26L356.35 535.17L356.82 534.09L357.30 533.02L357.78 531.94L358.26 530.87L358.75 529.81L359.24 528.75L359.74 527.69L360.24 526.64L360.74 525.60L361.25 524.56L361.76 523.53L362.27 522.51L362.79 521.50L363.31 520.50L363.83 519.50L364.35 518.52L364.89 517.54L365.43 516.57L366.00 515.60L366.58 514.64L367.19 513.68L367.84 512.71L368.51 511.75L369.23 510.78L369.98 509.81L370.79 508.84L371.63 507.88L372.51 506.97L373.43 506.09L374.39 505.28L375.39 504.55L376.42 503.91L377.49 503.38L378.58 502.96L379.71 502.68L380.84 502.55L381.94 502.57L382.97 502.76L383.93 503.09L384.82 503.56L385.64 504.16L386.41 504.87L387.12 505.67L387.79 506.55L388.43 507.50L389.03 508.51L389.60 509.55L390.15 510.62L390.69 511.71L391.22 512.79L391.73 513.87L392.24 514.96L392.74 516.05L393.23 517.14L393.71 518.23L394.18 519.33L394.64 520.42L395.09 521.52L395.54 522.62L395.97 523.72L396.40 524.82L396.82 525.92L397.23 527.02L397.64 528.13L398.04 529.23L398.43 530.34L398.81 531.44L399.19 532.55L399.56 533.66L399.93 534.77L400.29 535.89L400.64 537.00L400.99 538.11L401.33 539.23L401.66 540.34L402.00 541.46L402.32 542.58L402.65 543.69L402.96 544.81L403.28 545.93L403.59 547.05L403.89 548.17L404.19 549.29L404.49 550.42L404.79 551.54L405.08 552.66L405.37 553.78L405.66 554.91L405.94 556.03L406.22 557.16L406.50 558.28L406.78 559.41L407.06 560.53L407.34 561.66L407.61 562.78L407.88 563.91L408.15 565.03L408.43 566.16L408.70 567.28L408.97 568.41L409.24 569.54L409.51 570.66L409.78 571.79L410.05 572.91L410.33 574.04L410.60 575.16L410.87 576.29L411.15 577.41L411.43 578.54L411.71 579.66L411.99 580.78L412.28 581.91L412.57 583.03L412.87 584.15L413.17 585.27L413.47 586.39L413.78 587.51L414.09 588.63L414.41 589.75L414.74 590.87L415.07 591.99L415.41 593.10L415.76 594.22L416.11 595.33L416.48 596.44L416.85 597.55L417.23 598.66L417.62 599.77L418.02 600.88L418.43 601.99L418.85 603.09L419.28 604.19L419.72 605.30L420.17 606.40L420.64 607.50L421.12 608.59L421.61 609.69L422.11 610.78L422.63 611.88L423.16 612.97L423.70 614.05L424.26 615.13L424.85 616.19L425.46 617.22L426.10 618.22L426.78 619.16L427.49 620.06L428.25 620.89L429.05 621.64L429.91 622.31L430.82 622.90L431.78 623.39L432.79 623.81L433.84 624.15L434.93 624.41L436.06 624.61L437.21 624.75L438.38 624.84L439.57 624.87L440.78 624.86L442.00 624.82L443.22 624.74L444.44 624.63L445.65 624.50L446.86 624.35L448.05 624.19L449.24 624.01L450.42 623.82L451.58 623.62L452.74 623.40L453.89 623.17L455.03 622.92L456.17 622.66L457.30 622.39L458.42 622.11L459.53 621.82L460.64 621.51L461.75 621.20L462.85 620.87L463.94 620.53L465.03 620.19L466.12 619.83L467.20 619.47L468.29 619.09L469.37 618.71L470.44 618.32L471.52 617.93L472.60 617.52L473.67 617.11L474.75 616.69L475.82 616.27L476.90 615.84L477.98 615.40L479.06 614.96L480.14 614.52L481.23 614.07L482.31 613.62L483.41 613.16L484.50 612.70L485.60 612.25L486.70 611.79L487.80 611.34L488.91 610.89L490.01 610.45L491.12 610.01L492.24 609.59L493.35 609.17L494.47 608.77L495.59 608.38L496.71 608.01L497.83 607.66L498.96 607.32L500.09 607.01L501.21 606.71L502.34 606.44L503.47 606.19L504.61 605.98L505.74 605.78L506.87 605.62L508.01 605.48L509.14 605.36L510.28 605.28L511.42 605.21L512.56 605.18L513.69 605.17L514.83 605.19L515.97 605.23L517.11 605.29L518.25 605.38L519.38 605.50L520.52 605.64L521.66 605.81L522.80 606.00L523.94 606.21L525.07 606.45L526.21 606.71L527.34 606.99L528.48 607.30L529.61 607.63L530.74 607.98L531.87 608.35L533.00 608.73L534.13 609.12L535.26 609.51L536.39 609.91L537.52 610.30L538.64 610.69L539.77 611.07L540.90 611.43L542.02 611.78L543.15 612.11L544.27 612.41L545.39 612.68L546.52 612.92L547.64 613.13L548.76 613.30L549.89 613.42L551.01 613.50L552.13 613.52L553.26 613.49L554.38 613.41L555.50 613.29L556.62 613.11L557.74 612.89L558.86 612.63L559.98 612.33L561.10 612.00L562.21 611.64L563.32 611.24L564.43 610.82L565.54 610.37L566.65 609.90L567.75 609.41L568.85 608.91L569.94 608.39L571.03 607.86L572.12 607.32L573.21 606.77L574.29 606.23L575.36 605.68L576.43 605.14L577.49 604.60L578.55 604.07L579.61 603.55L580.66 603.04L581.70 602.54L582.74 602.04L583.78 601.55L584.81 601.07L585.84 600.59L586.87 600.11L587.90 599.64L588.92 599.16L589.95 598.68L590.97 598.20L592.00 597.72L593.02 597.24L594.05 596.75L595.08 596.25L596.11 595.74L597.14 595.23L598.17 594.70L599.21 594.17L600.25 593.63L601.29 593.08L602.34 592.53L603.39 591.98L604.44 591.43L605.50 590.87L606.56 590.32L607.62 589.78L608.69 589.24L609.76 588.70L610.83 588.18L611.91 587.66L612.99 587.16L614.07 586.67L615.16 586.19L616.25 585.73L617.35 585.29L618.45 584.87L619.55 584.47L620.66 584.09L621.78 583.74L622.89 583.41L624.02 583.11L625.14 582.83L626.27 582.59L627.41 582.38L628.55 582.21L629.69 582.06L630.84 581.95L631.99 581.88L633.14 581.83L634.29 581.82L635.45 581.84L636.60 581.89L637.75 581.97L638.90 582.09L640.05 582.23L641.19 582.40L642.34 582.61L643.47 582.84L644.60 583.10L645.73 583.39L646.84 583.71L647.95 584.05L649.05 584.43L650.15 584.83L651.23 585.25L652.30 585.71L653.36 586.19L654.41 586.69L655.44 587.22L656.47 587.77L657.47 588.35L658.47 588.96L659.44 589.58L660.40 590.23L661.35 590.90L662.28 591.60L663.19 592.31L664.10 593.03L665.00 593.76L665.89 594.51L666.78 595.25L667.67 596.00L668.57 596.75L669.47 597.49L670.39 598.22L671.31 598.94L672.25 599.65L673.20 600.33L674.18 601.00L675.18 601.65L676.19 602.27L677.23 602.86L678.29 603.43L679.36 603.97L680.44 604.49L681.54 604.99L682.65 605.46L683.76 605.91L684.89 606.33L686.01 606.72L687.14 607.09L688.27 607.44L689.40 607.76L690.54 608.06L691.67 608.34L692.81 608.59L693.95 608.82L695.09 609.03L696.23 609.21L697.37 609.38L698.51 609.52L699.66 609.64L700.80 609.74L701.95 609.82L703.09 609.88L704.24 609.92L705.39 609.95L706.53 609.95L707.68 609.93L708.83 609.90L709.98 609.85L711.12 609.78L712.27 609.70L713.42 609.60L714.57 609.48L715.71 609.35L716.86 609.20L718.00 609.04L719.15 608.86L720.29 608.67L721.44 608.46L722.58 608.24L723.72 608.01L724.86 607.76L726.00 607.50L727.13 607.23L728.27 606.95L729.40 606.65L730.53 606.35L731.66 606.03L732.79 605.71L733.92 605.37L735.04 605.03L736.17 604.67L737.29 604.31L738.40 603.94L739.52 603.55L740.63 603.17L741.74 602.77L742.85 602.37L743.96 601.96L745.06 601.54L746.16 601.12L747.25 600.70L748.35 600.26L749.44 599.83L750.53 599.39L751.61 598.95L752.70 598.51L753.78 598.08L754.87 597.64L755.95 597.20L757.03 596.77L758.12 596.34L759.20 595.91L760.28 595.50L761.37 595.08L762.45 594.68L763.54 594.28L764.63 593.90L765.72 593.52L766.82 593.16L767.92 592.81L769.02 592.47L770.12 592.14L771.23 591.83L772.34 591.54L773.45 591.26L774.57 591.00L775.70 590.76L776.83 590.54L777.96 590.34L779.10 590.16L780.25 590.01L781.40 589.87L782.56 589.76L783.73 589.68L784.90 589.62L786.07 589.58L787.25 589.56L788.43 589.56L789.62 589.58L790.80 589.63L791.99 589.69L793.17 589.77L794.36 589.86L795.54 589.98L796.72 590.10L797.90 590.25L799.07 590.41L800.24 590.58L801.40 590.76L802.56 590.96L803.71 591.17L804.86 591.38L806.00 591.61L807.14 591.83L808.27 592.05L809.41 592.27L810.54 592.48L811.67 592.68L812.80 592.87L813.93 593.04L815.06 593.20L816.20 593.34L817.34 593.45L818.49 593.53L819.64 593.59L820.79 593.61L821.95 593.59L823.12 593.54L824.30 593.46L825.48 593.33L826.66 593.18L827.84 592.99L829.02 592.77L830.20 592.53L831.37 592.26L832.53 591.97L833.68 591.66L834.82 591.32L835.95 590.97L837.06 590.61L838.16 590.23L839.25 589.83L840.33 589.42L841.40 589.00L842.46 588.57L843.51 588.13L844.56 587.68L845.60 587.23L846.64 586.77L847.67 586.30L848.71 585.83L849.74 585.35L850.77 584.88L851.80 584.40L852.83 583.93L853.86 583.45L854.90 582.98L855.95 582.52L857.00 582.06L858.05 581.60L859.12 581.15L860.19 580.71L861.27 580.28L862.37 579.86L863.47 579.45L864.59 579.06L865.72 578.68L866.86 578.31L868.01 577.95L869.16 577.62L870.33 577.30L871.50 576.99L872.67 576.71L873.85 576.44L875.04 576.19L876.23 575.97L877.42 575.76L878.61 575.58L879.80 575.42L880.99 575.28L882.18 575.17L883.37 575.08L884.56 575.02L885.74 574.99L886.91 574.98L888.08 575.00L889.25 575.05L890.41 575.13L891.56 575.24L892.70 575.38L893.83 575.55L894.94 575.76L896.05 575.99L897.15 576.27L898.23 576.58L899.29 576.92L900.35 577.30L901.39 577.71L902.41 578.16L903.43 578.64L904.43 579.14L905.42 579.68L906.39 580.24L907.36 580.83L908.32 581.45L909.27 582.08L910.20 582.74L911.13 583.43L912.05 584.13L912.96 584.85L913.87 585.58L914.77 586.34L915.66 587.10L916.54 587.88L917.42 588.68L918.29 589.48L919.16 590.30L920.03 591.12L920.89 591.95L921.74 592.79L922.60 593.63L923.45 594.47L924.30 595.32L925.14 596.16L925.99 597.01L926.84 597.86L927.68 598.70L928.53 599.54L929.38 600.38L930.22 601.22L931.07 602.05L931.92 602.88L932.77 603.70L933.62 604.52L934.48 605.33L935.33 606.14L936.20 606.94L937.06 607.73L937.93 608.51L938.80 609.29L939.68 610.06L940.56 610.81L941.45 611.56L942.34 612.30L943.24 613.02L944.14 613.73L945.05 614.44L945.97 615.12L946.89 615.80L947.83 616.46L948.77 617.11L949.72 617.74L950.67 618.36L951.64 618.96L952.62 619.54L953.60 620.11L954.60 620.66L955.60 621.19L956.62 621.71L957.65 622.20L958.69 622.68L959.74 623.13L960.80 623.57L961.87 623.98L962.96 624.37L964.06 624.74L965.18 625.09L966.30 625.41L967.45 625.71L968.60 625.99L969.77 626.24L970.95 626.48L972.13 626.69L973.33 626.88L974.53 627.05L975.73 627.20L976.93 627.34L978.14 627.45L979.35 627.55L980.55 627.64L981.75 627.71L982.94 627.77L984.13 627.81L985.31 627.84L986.47 627.87L987.63 627.88L988.77 627.88L989.90 627.87L991.01 627.85L992.10 627.83L993.18 627.80" fill="none" stroke="#0a800a" stroke-width="2.9" stroke-linejoin="round" transform="translate(0.4,0)"/>
<rect x="138" y="398.7" width="84" height="3.6" fill="#0a0aff"/><rect x="138" y="627" width="104" height="4.3" fill="#0a800a"/>
<!-- labels -->
<text x="253.9" y="689.7" text-anchor="middle" class="s" font-size="36">300</text><text x="488.6" y="689.7" text-anchor="middle" class="s" font-size="36">400</text><text x="723.3" y="689.7" text-anchor="middle" class="s" font-size="36">500</text><text x="958.0" y="689.7" text-anchor="middle" class="s" font-size="36">600</text>
<text x="123" y="257" text-anchor="end" class="s" font-size="36">3</text>
<text x="121.5" y="639.3" text-anchor="end" class="s" font-size="36">0</text>
<text x="404" y="756.5" class="s" font-size="44">Temperature (K)</text>
<text transform="translate(54,495) rotate(-90)" class="s" font-size="44">TL Intensity (a.u.)</text>
<text x="774.3" y="116.3" class="s" font-size="40.3" letter-spacing="0.45">LYSO:Ce<tspan font-size="23.5" x="948.3" y="94.5" letter-spacing="1.4">3+</tspan></text>
<text x="783.9" y="484.3" class="s" font-size="40.3" letter-spacing="0.45">LYSO:Tb<tspan font-size="23.5" x="954.2" y="461.3" letter-spacing="1.4">3+</tspan></text>
<text x="408" y="83" class="r">I</text>
<text x="495" y="332.7" class="r">II</text>
<text x="611" y="349.6" class="r">III</text>
<text x="765" y="365" class="r">IV</text>
<text x="866" y="373.6" class="r">V</text>
<text x="397.5" y="496.5" class="r">I</text>
<text x="496.8" y="590" class="r">II</text>
<text x="611" y="564.9" class="r">III</text>
<text x="761" y="578.3" class="r">IV</text>
<text x="909.3" y="579.2" class="r">V</text>
</g>
</svg>
</body></html>
